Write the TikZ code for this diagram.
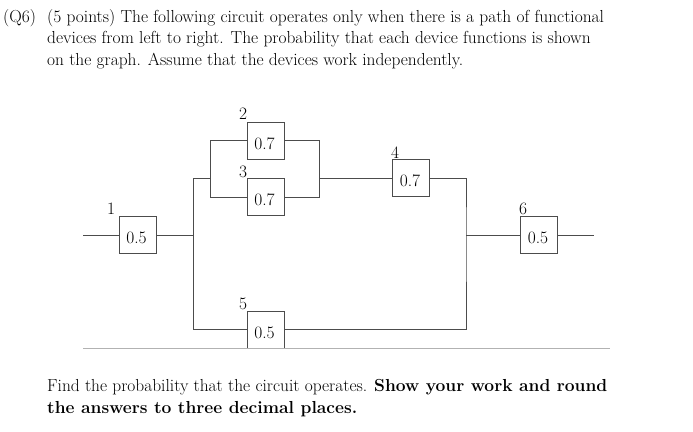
\documentclass[tikz,border=0pt]{standalone}
\usepackage{fontspec}
\begin{document}
\begin{tikzpicture}[x=1pt,y=-1pt,
  dev/.style={draw=black!70,line width=0.6pt,minimum width=37pt,minimum height=37pt,inner sep=0pt},
  lab/.style={inner sep=0pt,font=\fontsize{17.4}{19}\selectfont},
  wire/.style={draw=black!70,line width=0.7pt},
  txt/.style={anchor=base west,inner sep=0pt,font=\fontsize{17.4}{21}\selectfont}]
\useasboundingbox (0,0) rectangle (693,431);
\node[txt] (h0) at (3,22) {(Q6)};
\node[txt] (h1) at (47,22) {(5 points) The following circuit operates only when there is a path of functional};
\node[txt] (h2) at (47,43) {devices from left to right. The probability that each device functions is shown};
\node[txt] (h3) at (47,65) {on the graph. Assume that the devices work independently.};
\node[dev] (b1) at (137.5,235) {}; \node[lab] at ([xshift=-1pt,yshift=-3pt]b1.center) {0.5};
\node[dev] (b2) at (265.5,140.5) {}; \node[lab] at ([xshift=-1pt,yshift=-3pt]b2.center) {0.7};
\node[dev] (b3) at (265.5,197) {}; \node[lab] at ([xshift=-1pt,yshift=-3pt]b3.center) {0.7};
\node[dev] (b4) at (411,178) {}; \node[lab] at ([xshift=-1pt,yshift=-3pt]b4.center) {0.7};
\node[dev] (b5) at (265.5,329.5) {}; \node[lab] at ([xshift=-1pt,yshift=-3pt]b5.center) {0.5};
\node[dev] (b6) at (539,235) {}; \node[lab] at ([xshift=-1pt,yshift=-3pt]b6.center) {0.5};
\node[lab] at (111,209) {1};
\node[lab] at (243,114) {2};
\node[lab] at (243,172) {3};
\node[lab] at (395,153) {4};
\node[lab] at (243,304) {5};
\node[lab] at (523,209) {6};
\coordinate (L) at (83,235); \coordinate (R) at (594,235);
\coordinate (jl) at (193,235); \coordinate (jr) at (466,235);
\path[wire] (L) -- (b1.west);
\path[wire] (b1.east) -- (jl) |- (210,178) |- (b2.west);
\path[wire] (210,178) |- (b3.west);
\path[wire] (b2.east) -| (319,197) -- (b3.east);
\path[wire] (319,178) -- (b4.west);
\path[wire] (b4.east) -| (jr) |- (b5.east);
\path[wire] (jl) |- (b5.west);
\path[wire] (jr) -- (b6.west);
\path[wire] (b6.east) -- (R);
\draw[black!30,line width=0.8pt] (83,348) -- (610,348);
\node[txt] (f1) at (47,391) {Find the probability that the circuit operates. \textbf{Show your work and round}};
\node[txt] (f2) at (47,413) {\textbf{the answers to three decimal places.}};
\end{tikzpicture}
\end{document}
